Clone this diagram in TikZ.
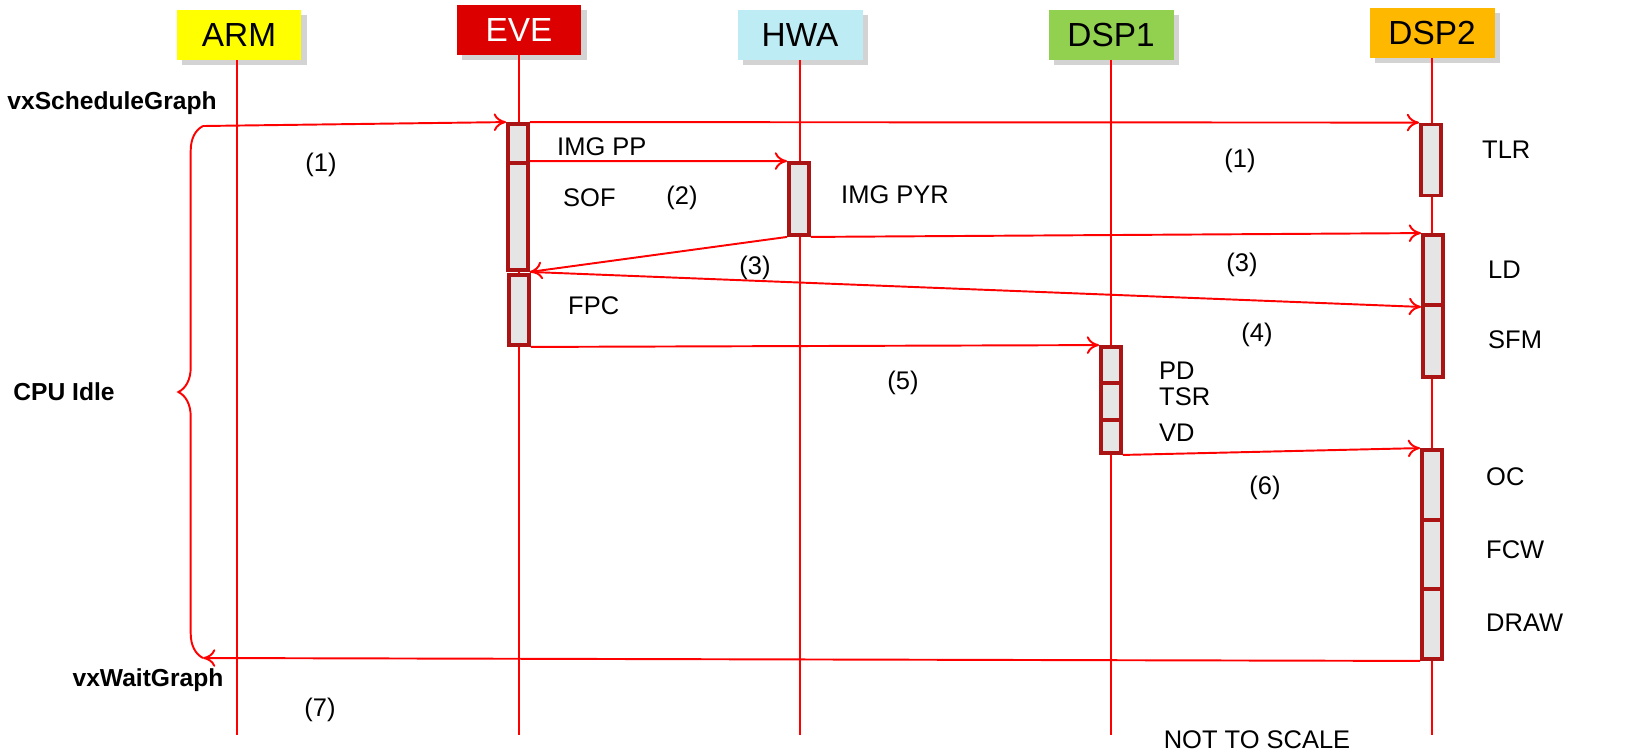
\documentclass[tikz,border=0pt]{standalone}
\usepackage{fontspec}
\setmainfont{Liberation Sans}
\usetikzlibrary{arrows.meta,shadows,decorations.pathreplacing}
\definecolor{armyel}{RGB}{255,255,0}
\definecolor{evered}{RGB}{221,0,0}
\definecolor{hwablue}{RGB}{190,236,244}
\definecolor{dspgreen}{RGB}{146,208,80}
\definecolor{dsporange}{RGB}{255,184,0}
\definecolor{actred}{RGB}{170,20,20}
\tikzset{
  hdr/.style={minimum width=2.5cm,minimum height=1cm,inner sep=0pt,font=\fontsize{19}{21}\selectfont,drop shadow={opacity=0.35,shadow xshift=3pt,shadow yshift=-3pt}},
  life/.style={red,line width=1pt},
  act/.style={draw=actred,fill=gray!20,line width=2.2pt,minimum width=0.4cm,inner sep=0pt},
  msg/.style={red,line width=1.1pt,-{To[length=7pt,width=10pt]}},
  lbl/.style={font=\fontsize{14.5}{16}\selectfont},
  blbl/.style={font=\bfseries\fontsize{14}{16}\selectfont}
}
\begin{document}
\begin{tikzpicture}[x=0.02cm,y=-0.02cm]
\useasboundingbox (0,0) rectangle (1631,755);

% headers
\node[hdr,fill=armyel] (arm) at (239,35) {ARM};
\node[hdr,fill=evered,text=white] (eve) at (519,30) {EVE};
\node[hdr,fill=hwablue] (hwa) at (800,35) {HWA};
\node[hdr,fill=dspgreen] (dspa) at (1111,35) {DSP1};
\node[hdr,fill=dsporange] (dspb) at (1432,33) {DSP2};

% lifelines
\foreach \n/\x in {arm/237,eve/519,hwa/800,dspa/1111,dspb/1432}
  \draw[life] (\n.south -| \x,0) -- (\x,735);

% activations
\node[act,minimum height=0.78cm] (eveA) at (518,143.5) {};
\node[act,minimum height=2.14cm] (eveB) at (518,216.5) {};
\node[act,minimum height=1.4cm] (eveC) at (519,310) {};
\node[act,minimum height=1.44cm] (hwaA) at (799,199) {};
\node[act,minimum height=0.72cm] (dspaA) at (1111,365) {};
\node[act,minimum height=0.74cm] (dspaB) at (1111,401.5) {};
\node[act,minimum height=0.66cm] (dspaC) at (1111,436.5) {};
\node[act,minimum height=1.42cm] (tlr) at (1431,160) {};
\node[act,minimum height=1.4cm] (ld) at (1433,270) {};
\node[act,minimum height=1.44cm] (sfm) at (1433,341) {};
\node[act,minimum height=1.4cm] (oc) at (1432,485) {};
\node[act,minimum height=1.4cm] (fcw) at (1432,555) {};
\node[act,minimum height=1.4cm] (draw) at (1432,624) {};

% messages
\coordinate (start) at (203,126);
\coordinate (stop) at (203,658);
\draw[msg] (start) -- (eveA.north west);
\draw[msg] (eveA.north east) -- (tlr.north west);
\draw[msg] (eveB.north east) -- (hwaA.north west);
\draw[msg] (hwaA.south east) -- (ld.north west);
\draw[msg] (hwaA.south west) -- (eveB.south east);
\draw[msg] (eveB.south east) -- (ld.south west);
\draw[msg] (eveC.south east) -- (dspaA.north west);
\draw[msg] (dspaC.south east) -- (oc.north west);
\draw[msg] (draw.south west) -- (stop);

% idle brace
\draw[red,line width=1.1pt,decorate,decoration={brace,amplitude=14pt}]
  (stop) -- (start) coordinate[pos=0.5] (mid);

% labels
\node[blbl] (sched) at (112,103) {vxScheduleGraph};
\node[blbl] (idle) at (64,392) {CPU Idle};
\node[blbl] (wait) at (148,680) {vxWaitGraph};
\node[lbl] (n1a) at (321,165) {(1)};
\node[lbl] (n1b) at (1240,161) {(1)};
\node[lbl] (n2) at (682,198) {(2)};
\node[lbl] (n3a) at (755,268) {(3)};
\node[lbl] (n3b) at (1242,265) {(3)};
\node[lbl] (n4) at (1257,335) {(4)};
\node[lbl] (n5) at (903,383) {(5)};
\node[lbl] (n6) at (1265,488) {(6)};
\node[lbl] (n7) at (320,710) {(7)};
\node[lbl,anchor=west] (tpp) at (551,147) {IMG PP};
\node[lbl,anchor=west] (tsof) at (557,198) {SOF};
\node[lbl,anchor=west] (tpyr) at (835,195) {IMG PYR};
\node[lbl,anchor=west] (tfpc) at (562,306) {FPC};
\node[lbl,anchor=west] (tpd) at (1153,371) {PD};
\node[lbl,anchor=west] (ttsr) at (1153,397) {TSR};
\node[lbl,anchor=west] (tvd) at (1153,433) {VD};
\node[lbl,anchor=west] (ttlr) at (1476,150) {TLR};
\node[lbl,anchor=west] (tld) at (1482,270) {LD};
\node[lbl,anchor=west] (tsfm) at (1482,340) {SFM};
\node[lbl,anchor=west] (toc) at (1480,477) {OC};
\node[lbl,anchor=west] (tfcw) at (1480,550) {FCW};
\node[lbl,anchor=west] (tdraw) at (1480,623) {DRAW};
\node[lbl] (nts) at (1257,740) {NOT TO SCALE};
\end{tikzpicture}
\end{document}
